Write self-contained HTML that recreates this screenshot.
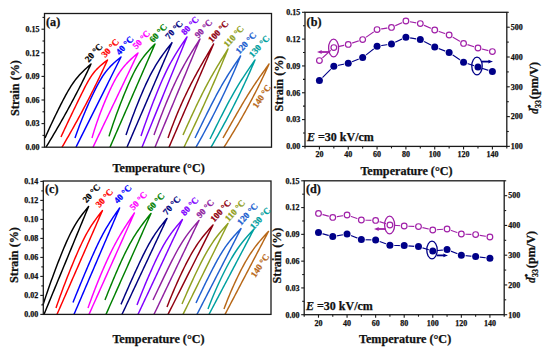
<!DOCTYPE html><html><head><meta charset="utf-8"><style>html,body{margin:0;padding:0;background:#fff;}svg{display:block;}text{font-family:"Liberation Serif", serif;font-weight:bold;stroke-width:0.25px;}</style></head><body>
<svg width="550" height="350" viewBox="0 0 550 350">
<rect width="550" height="350" fill="#fff"/>
<path d="M46.00,147.20 L47.27,145.12 L48.53,143.04 L49.79,140.96 L51.04,138.88 L52.28,136.80 L53.52,134.72 L54.74,132.64 L55.96,130.56 L57.17,128.48 L58.38,126.40 L59.57,124.32 L60.76,122.24 L61.94,120.16 L63.12,118.08 L64.28,116.00 L65.44,113.92 L66.59,111.84 L67.73,109.76 L68.87,107.68 L70.00,105.60 L71.12,103.52 L72.23,101.44 L73.34,99.36 L74.44,97.28 L75.53,95.20 L76.61,93.12 L77.69,91.04 L78.76,88.96 L79.82,86.88 L80.88,84.80 L81.92,82.72 L82.96,80.64 L83.99,78.56 L85.02,76.48 L86.03,74.40 L87.04,72.32 L88.04,70.24 L89.03,68.16 L90.02,66.08 L91.00,64.00 L88.92,65.85 L86.87,67.70 L84.87,69.55 L82.94,71.40 L81.11,73.25 L79.39,75.10 L77.76,76.95 L76.23,78.80 L74.80,80.65 L73.46,82.50 L72.18,84.35 L70.97,86.20 L69.82,88.05 L68.71,89.90 L67.63,91.75 L66.59,93.60 L65.58,95.45 L64.58,97.30 L63.60,99.15 L62.64,101.00 L61.69,102.85 L60.75,104.70 L59.82,106.55 L58.89,108.40 L57.98,110.25 L57.07,112.10 L56.16,113.95 L55.26,115.80 L54.37,117.65 L53.49,119.50 L52.61,121.35 L51.73,123.20 L50.87,125.05 L50.01,126.90 L49.15,128.75 L48.31,130.60 L47.47,132.45 L46.64,134.30 L45.81,136.15 L45.00,138.00" fill="none" stroke="#000000" stroke-width="1.45" stroke-linejoin="round"/>
<path d="M62.00,147.20 L63.28,145.02 L64.56,142.84 L65.83,140.66 L67.09,138.48 L68.34,136.30 L69.59,134.12 L70.83,131.94 L72.06,129.76 L73.28,127.58 L74.50,125.40 L75.71,123.22 L76.91,121.04 L78.10,118.86 L79.29,116.68 L80.47,114.50 L81.64,112.32 L82.80,110.14 L83.96,107.96 L85.11,105.78 L86.25,103.60 L87.38,101.42 L88.51,99.24 L89.63,97.06 L90.74,94.88 L91.84,92.70 L92.94,90.52 L94.03,88.34 L95.11,86.16 L96.18,83.98 L97.25,81.80 L98.31,79.62 L99.36,77.44 L100.40,75.26 L101.44,73.08 L102.47,70.90 L103.49,68.72 L104.50,66.54 L105.51,64.36 L106.51,62.18 L107.50,60.00 L105.03,61.92 L102.64,63.85 L100.38,65.78 L98.30,67.70 L96.41,69.62 L94.71,71.55 L93.17,73.47 L91.78,75.40 L90.49,77.33 L89.30,79.25 L88.18,81.17 L87.10,83.10 L86.07,85.03 L85.06,86.95 L84.08,88.88 L83.11,90.80 L82.14,92.72 L81.19,94.65 L80.24,96.57 L79.30,98.50 L78.36,100.43 L77.42,102.35 L76.49,104.28 L75.56,106.20 L74.62,108.12 L73.69,110.05 L72.77,111.97 L71.84,113.90 L70.92,115.82 L70.00,117.75 L69.08,119.68 L68.17,121.60 L67.26,123.53 L66.35,125.45 L65.45,127.38 L64.55,129.30 L63.65,131.23 L62.76,133.15 L61.88,135.07 L61.00,137.00" fill="none" stroke="#ff0000" stroke-width="1.45" stroke-linejoin="round"/>
<path d="M76.00,147.20 L77.12,144.94 L78.25,142.69 L79.38,140.44 L80.50,138.18 L81.62,135.92 L82.75,133.67 L83.88,131.41 L85.00,129.16 L86.12,126.90 L87.25,124.65 L88.38,122.39 L89.50,120.14 L90.62,117.88 L91.75,115.63 L92.88,113.38 L94.00,111.12 L95.12,108.86 L96.25,106.61 L97.38,104.35 L98.50,102.10 L99.62,99.84 L100.75,97.59 L101.88,95.33 L103.00,93.08 L104.12,90.83 L105.25,88.57 L106.38,86.31 L107.50,84.06 L108.62,81.80 L109.75,79.55 L110.88,77.29 L112.00,75.04 L113.12,72.78 L114.25,70.53 L115.38,68.28 L116.50,66.02 L117.62,63.77 L118.75,61.51 L119.88,59.25 L121.00,57.00 L118.55,59.02 L116.16,61.05 L113.88,63.08 L111.74,65.10 L109.76,67.12 L107.94,69.15 L106.27,71.17 L104.74,73.20 L103.32,75.22 L102.00,77.25 L100.76,79.28 L99.58,81.30 L98.46,83.33 L97.37,85.35 L96.32,87.38 L95.30,89.40 L94.30,91.42 L93.32,93.45 L92.35,95.47 L91.40,97.50 L90.46,99.53 L89.54,101.55 L88.62,103.57 L87.72,105.60 L86.83,107.62 L85.95,109.65 L85.09,111.68 L84.23,113.70 L83.39,115.72 L82.55,117.75 L81.74,119.78 L80.93,121.80 L80.14,123.83 L79.36,125.85 L78.60,127.88 L77.85,129.90 L77.11,131.93 L76.39,133.95 L75.69,135.97 L75.00,138.00" fill="none" stroke="#0000ff" stroke-width="1.45" stroke-linejoin="round"/>
<path d="M93.00,147.20 L94.12,144.84 L95.25,142.49 L96.38,140.13 L97.50,137.78 L98.62,135.42 L99.75,133.07 L100.88,130.72 L102.00,128.36 L103.12,126.00 L104.25,123.65 L105.38,121.29 L106.50,118.94 L107.62,116.58 L108.75,114.23 L109.88,111.88 L111.00,109.52 L112.12,107.16 L113.25,104.81 L114.38,102.45 L115.50,100.10 L116.62,97.74 L117.75,95.39 L118.88,93.03 L120.00,90.68 L121.12,88.33 L122.25,85.97 L123.38,83.61 L124.50,81.26 L125.62,78.91 L126.75,76.55 L127.88,74.19 L129.00,71.84 L130.12,69.48 L131.25,67.13 L132.38,64.78 L133.50,62.42 L134.62,60.06 L135.75,57.71 L136.88,55.35 L138.00,53.00 L135.53,55.12 L133.11,57.25 L130.79,59.38 L128.59,61.50 L126.53,63.62 L124.63,65.75 L122.87,67.88 L121.25,70.00 L119.75,72.12 L118.36,74.25 L117.05,76.38 L115.82,78.50 L114.65,80.62 L113.53,82.75 L112.45,84.88 L111.41,87.00 L110.39,89.12 L109.40,91.25 L108.44,93.38 L107.49,95.50 L106.56,97.62 L105.65,99.75 L104.76,101.88 L103.88,104.00 L103.01,106.12 L102.16,108.25 L101.33,110.38 L100.51,112.50 L99.70,114.62 L98.92,116.75 L98.14,118.88 L97.39,121.00 L96.65,123.12 L95.93,125.25 L95.23,127.38 L94.54,129.50 L93.88,131.62 L93.23,133.75 L92.61,135.88 L92.00,138.00" fill="none" stroke="#ff00ff" stroke-width="1.45" stroke-linejoin="round"/>
<path d="M110.00,147.20 L111.12,144.62 L112.25,142.04 L113.38,139.46 L114.50,136.88 L115.62,134.30 L116.75,131.72 L117.88,129.14 L119.00,126.56 L120.12,123.98 L121.25,121.40 L122.38,118.82 L123.50,116.24 L124.62,113.66 L125.75,111.08 L126.88,108.50 L128.00,105.92 L129.12,103.34 L130.25,100.76 L131.38,98.18 L132.50,95.60 L133.62,93.02 L134.75,90.44 L135.88,87.86 L137.00,85.28 L138.12,82.70 L139.25,80.12 L140.38,77.54 L141.50,74.96 L142.62,72.38 L143.75,69.80 L144.88,67.22 L146.00,64.64 L147.12,62.06 L148.25,59.48 L149.38,56.90 L150.50,54.32 L151.62,51.74 L152.75,49.16 L153.88,46.58 L155.00,44.00 L152.78,46.31 L150.60,48.62 L148.49,50.93 L146.48,53.24 L144.59,55.55 L142.81,57.86 L141.16,60.17 L139.62,62.48 L138.17,64.79 L136.82,67.10 L135.54,69.41 L134.33,71.72 L133.17,74.03 L132.05,76.34 L130.97,78.65 L129.91,80.96 L128.89,83.27 L127.88,85.58 L126.90,87.89 L125.93,90.20 L124.97,92.51 L124.03,94.82 L123.10,97.13 L122.18,99.44 L121.27,101.75 L120.37,104.06 L119.48,106.37 L118.61,108.68 L117.74,110.99 L116.89,113.30 L116.04,115.61 L115.21,117.92 L114.39,120.23 L113.58,122.54 L112.79,124.85 L112.00,127.16 L111.23,129.47 L110.47,131.78 L109.73,134.09 L109.00,136.40" fill="none" stroke="#008000" stroke-width="1.45" stroke-linejoin="round"/>
<path d="M127.00,147.20 L128.12,144.58 L129.25,141.97 L130.38,139.35 L131.50,136.74 L132.62,134.12 L133.75,131.51 L134.88,128.89 L136.00,126.28 L137.12,123.66 L138.25,121.05 L139.38,118.43 L140.50,115.82 L141.62,113.20 L142.75,110.59 L143.88,107.97 L145.00,105.36 L146.12,102.74 L147.25,100.13 L148.38,97.51 L149.50,94.90 L150.62,92.28 L151.75,89.67 L152.88,87.05 L154.00,84.44 L155.12,81.82 L156.25,79.21 L157.38,76.59 L158.50,73.98 L159.62,71.36 L160.75,68.75 L161.88,66.13 L163.00,63.52 L164.12,60.91 L165.25,58.29 L166.38,55.67 L167.50,53.06 L168.62,50.44 L169.75,47.83 L170.88,45.22 L172.00,42.60 L170.18,44.91 L168.37,47.22 L166.58,49.53 L164.84,51.84 L163.14,54.15 L161.50,56.46 L159.91,58.77 L158.39,61.08 L156.92,63.39 L155.52,65.70 L154.17,68.01 L152.87,70.32 L151.62,72.63 L150.41,74.94 L149.24,77.25 L148.11,79.56 L147.01,81.87 L145.93,84.18 L144.88,86.49 L143.85,88.80 L142.84,91.11 L141.85,93.42 L140.87,95.73 L139.91,98.04 L138.96,100.35 L138.02,102.66 L137.10,104.97 L136.18,107.28 L135.28,109.59 L134.39,111.90 L133.50,114.21 L132.63,116.52 L131.77,118.83 L130.91,121.14 L130.07,123.45 L129.24,125.76 L128.41,128.07 L127.60,130.38 L126.79,132.69 L126.00,135.00" fill="none" stroke="#000080" stroke-width="1.45" stroke-linejoin="round"/>
<path d="M142.00,147.20 L143.12,144.44 L144.25,141.69 L145.38,138.94 L146.50,136.18 L147.62,133.42 L148.75,130.67 L149.88,127.91 L151.00,125.16 L152.12,122.40 L153.25,119.65 L154.38,116.89 L155.50,114.14 L156.62,111.38 L157.75,108.63 L158.88,105.88 L160.00,103.12 L161.12,100.36 L162.25,97.61 L163.38,94.85 L164.50,92.10 L165.62,89.34 L166.75,86.59 L167.88,83.83 L169.00,81.08 L170.12,78.33 L171.25,75.57 L172.38,72.81 L173.50,70.06 L174.62,67.30 L175.75,64.55 L176.88,61.79 L178.00,59.04 L179.12,56.28 L180.25,53.53 L181.38,50.78 L182.50,48.02 L183.62,45.27 L184.75,42.51 L185.88,39.76 L187.00,37.00 L185.28,39.48 L183.58,41.95 L181.89,44.42 L180.24,46.90 L178.62,49.38 L177.05,51.85 L175.52,54.33 L174.04,56.80 L172.61,59.28 L171.23,61.75 L169.89,64.22 L168.60,66.70 L167.35,69.18 L166.14,71.65 L164.97,74.12 L163.82,76.60 L162.70,79.07 L161.61,81.55 L160.54,84.03 L159.49,86.50 L158.45,88.97 L157.44,91.45 L156.43,93.92 L155.45,96.40 L154.47,98.88 L153.51,101.35 L152.55,103.83 L151.61,106.30 L150.67,108.77 L149.75,111.25 L148.83,113.73 L147.93,116.20 L147.03,118.67 L146.14,121.15 L145.26,123.62 L144.39,126.10 L143.53,128.57 L142.68,131.05 L141.83,133.52 L141.00,136.00" fill="none" stroke="#8000ff" stroke-width="1.45" stroke-linejoin="round"/>
<path d="M155.00,147.20 L156.12,144.49 L157.25,141.79 L158.38,139.08 L159.50,136.38 L160.62,133.67 L161.75,130.97 L162.88,128.26 L164.00,125.56 L165.12,122.85 L166.25,120.15 L167.38,117.44 L168.50,114.74 L169.62,112.03 L170.75,109.33 L171.88,106.62 L173.00,103.92 L174.12,101.21 L175.25,98.51 L176.38,95.80 L177.50,93.10 L178.62,90.39 L179.75,87.69 L180.88,84.98 L182.00,82.28 L183.12,79.58 L184.25,76.87 L185.38,74.16 L186.50,71.46 L187.62,68.75 L188.75,66.05 L189.88,63.34 L191.00,60.64 L192.12,57.94 L193.25,55.23 L194.38,52.53 L195.50,49.82 L196.62,47.11 L197.75,44.41 L198.88,41.71 L200.00,39.00 L198.45,41.40 L196.91,43.80 L195.38,46.20 L193.86,48.60 L192.36,51.00 L190.88,53.40 L189.43,55.80 L188.00,58.20 L186.60,60.60 L185.24,63.00 L183.90,65.40 L182.59,67.80 L181.31,70.20 L180.07,72.60 L178.85,75.00 L177.65,77.40 L176.49,79.80 L175.34,82.20 L174.22,84.60 L173.12,87.00 L172.04,89.40 L170.98,91.80 L169.94,94.20 L168.91,96.60 L167.90,99.00 L166.90,101.40 L165.91,103.80 L164.93,106.20 L163.97,108.60 L163.02,111.00 L162.07,113.40 L161.14,115.80 L160.22,118.20 L159.30,120.60 L158.40,123.00 L157.50,125.40 L156.61,127.80 L155.73,130.20 L154.86,132.60 L154.00,135.00" fill="none" stroke="#9020a0" stroke-width="1.45" stroke-linejoin="round"/>
<path d="M169.00,147.20 L170.12,144.62 L171.23,142.04 L172.34,139.46 L173.46,136.88 L174.57,134.30 L175.69,131.72 L176.81,129.14 L177.92,126.56 L179.03,123.98 L180.15,121.40 L181.26,118.82 L182.38,116.24 L183.50,113.66 L184.61,111.08 L185.72,108.50 L186.84,105.92 L187.95,103.34 L189.07,100.76 L190.19,98.18 L191.30,95.60 L192.41,93.02 L193.53,90.44 L194.65,87.86 L195.76,85.28 L196.88,82.70 L197.99,80.12 L199.10,77.54 L200.22,74.96 L201.33,72.38 L202.45,69.80 L203.56,67.22 L204.68,64.64 L205.79,62.06 L206.91,59.48 L208.02,56.90 L209.14,54.32 L210.25,51.74 L211.37,49.16 L212.48,46.58 L213.60,44.00 L212.21,46.35 L210.82,48.70 L209.43,51.05 L208.05,53.40 L206.67,55.75 L205.30,58.10 L203.94,60.45 L202.58,62.80 L201.24,65.15 L199.92,67.50 L198.60,69.85 L197.30,72.20 L196.02,74.55 L194.75,76.90 L193.50,79.25 L192.27,81.60 L191.05,83.95 L189.86,86.30 L188.68,88.65 L187.52,91.00 L186.38,93.35 L185.26,95.70 L184.15,98.05 L183.07,100.40 L182.00,102.75 L180.95,105.10 L179.92,107.45 L178.91,109.80 L177.91,112.15 L176.93,114.50 L175.96,116.85 L175.02,119.20 L174.09,121.55 L173.17,123.90 L172.27,126.25 L171.39,128.60 L170.52,130.95 L169.66,133.30 L168.82,135.65 L168.00,138.00" fill="none" stroke="#900010" stroke-width="1.45" stroke-linejoin="round"/>
<path d="M184.00,147.20 L185.20,144.74 L186.39,142.29 L187.58,139.83 L188.76,137.38 L189.94,134.92 L191.11,132.47 L192.28,130.01 L193.44,127.56 L194.60,125.10 L195.75,122.65 L196.90,120.19 L198.04,117.74 L199.18,115.28 L200.31,112.83 L201.44,110.38 L202.56,107.92 L203.68,105.46 L204.79,103.01 L205.90,100.55 L207.00,98.10 L208.10,95.64 L209.19,93.19 L210.28,90.73 L211.36,88.28 L212.44,85.83 L213.51,83.37 L214.58,80.91 L215.64,78.46 L216.70,76.00 L217.75,73.55 L218.80,71.09 L219.84,68.64 L220.88,66.19 L221.91,63.73 L222.94,61.28 L223.96,58.82 L224.98,56.36 L225.99,53.91 L227.00,51.45 L228.00,49.00 L226.67,51.15 L225.34,53.30 L224.01,55.45 L222.68,57.60 L221.36,59.75 L220.05,61.90 L218.74,64.05 L217.45,66.20 L216.17,68.35 L214.91,70.50 L213.66,72.65 L212.43,74.80 L211.21,76.95 L210.02,79.10 L208.84,81.25 L207.67,83.40 L206.52,85.55 L205.39,87.70 L204.28,89.85 L203.17,92.00 L202.09,94.15 L201.01,96.30 L199.95,98.45 L198.89,100.60 L197.85,102.75 L196.82,104.90 L195.79,107.05 L194.78,109.20 L193.77,111.35 L192.77,113.50 L191.77,115.65 L190.78,117.80 L189.79,119.95 L188.81,122.10 L187.83,124.25 L186.86,126.40 L185.89,128.55 L184.92,130.70 L183.96,132.85 L183.00,135.00" fill="none" stroke="#90a020" stroke-width="1.45" stroke-linejoin="round"/>
<path d="M196.00,147.20 L197.29,144.92 L198.57,142.64 L199.84,140.36 L201.11,138.08 L202.36,135.80 L203.61,133.52 L204.84,131.24 L206.07,128.96 L207.29,126.68 L208.50,124.40 L209.70,122.12 L210.89,119.84 L212.07,117.56 L213.25,115.28 L214.41,113.00 L215.57,110.72 L216.71,108.44 L217.85,106.16 L218.98,103.88 L220.10,101.60 L221.21,99.32 L222.31,97.04 L223.40,94.76 L224.49,92.48 L225.56,90.20 L226.63,87.92 L227.68,85.64 L228.73,83.36 L229.77,81.08 L230.80,78.80 L231.82,76.52 L232.83,74.24 L233.83,71.96 L234.83,69.68 L235.81,67.40 L236.79,65.12 L237.75,62.84 L238.71,60.56 L239.66,58.28 L240.60,56.00 L239.21,58.05 L237.82,60.10 L236.43,62.15 L235.04,64.20 L233.67,66.25 L232.31,68.30 L230.96,70.35 L229.64,72.40 L228.34,74.45 L227.06,76.50 L225.80,78.55 L224.57,80.60 L223.36,82.65 L222.17,84.70 L221.00,86.75 L219.85,88.80 L218.72,90.85 L217.60,92.90 L216.50,94.95 L215.42,97.00 L214.34,99.05 L213.28,101.10 L212.23,103.15 L211.18,105.20 L210.14,107.25 L209.11,109.30 L208.09,111.35 L207.07,113.40 L206.05,115.45 L205.04,117.50 L204.02,119.55 L203.02,121.60 L202.01,123.65 L201.00,125.70 L200.00,127.75 L199.00,129.80 L198.00,131.85 L197.00,133.90 L196.00,135.95 L195.00,138.00" fill="none" stroke="#2060d0" stroke-width="1.45" stroke-linejoin="round"/>
<path d="M211.00,147.20 L212.28,145.02 L213.54,142.84 L214.80,140.66 L216.05,138.48 L217.29,136.30 L218.52,134.12 L219.74,131.94 L220.95,129.76 L222.16,127.58 L223.35,125.40 L224.54,123.22 L225.71,121.04 L226.88,118.86 L228.04,116.68 L229.19,114.50 L230.33,112.32 L231.46,110.14 L232.58,107.96 L233.70,105.78 L234.80,103.60 L235.90,101.42 L236.98,99.24 L238.06,97.06 L239.13,94.88 L240.19,92.70 L241.24,90.52 L242.28,88.34 L243.31,86.16 L244.34,83.98 L245.35,81.80 L246.36,79.62 L247.35,77.44 L248.34,75.26 L249.32,73.08 L250.29,70.90 L251.25,68.72 L252.20,66.54 L253.14,64.36 L254.08,62.18 L255.00,60.00 L253.64,61.98 L252.27,63.95 L250.90,65.92 L249.54,67.90 L248.19,69.88 L246.85,71.85 L245.53,73.83 L244.22,75.80 L242.93,77.78 L241.66,79.75 L240.41,81.72 L239.19,83.70 L237.98,85.67 L236.80,87.65 L235.63,89.62 L234.49,91.60 L233.36,93.57 L232.25,95.55 L231.15,97.53 L230.07,99.50 L229.00,101.47 L227.95,103.45 L226.90,105.42 L225.87,107.40 L224.84,109.38 L223.82,111.35 L222.80,113.33 L221.80,115.30 L220.79,117.28 L219.79,119.25 L218.80,121.22 L217.81,123.20 L216.83,125.17 L215.84,127.15 L214.86,129.12 L213.88,131.10 L212.91,133.07 L211.94,135.05 L210.97,137.02 L210.00,139.00" fill="none" stroke="#00a0a0" stroke-width="1.45" stroke-linejoin="round"/>
<path d="M224.00,147.20 L225.32,145.12 L226.63,143.04 L227.93,140.96 L229.22,138.88 L230.50,136.80 L231.77,134.72 L233.03,132.64 L234.28,130.56 L235.52,128.48 L236.75,126.40 L237.97,124.32 L239.18,122.24 L240.38,120.16 L241.57,118.08 L242.75,116.00 L243.92,113.92 L245.08,111.84 L246.23,109.76 L247.37,107.68 L248.50,105.60 L249.62,103.52 L250.73,101.44 L251.83,99.36 L252.92,97.28 L254.00,95.20 L255.07,93.12 L256.13,91.04 L257.18,88.96 L258.22,86.88 L259.25,84.80 L260.27,82.72 L261.28,80.64 L262.28,78.56 L263.27,76.48 L264.25,74.40 L265.22,72.32 L266.18,70.24 L267.13,68.16 L268.07,66.08 L269.00,64.00 L267.68,65.85 L266.36,67.70 L265.03,69.55 L263.71,71.40 L262.39,73.25 L261.08,75.10 L259.77,76.95 L258.49,78.80 L257.21,80.65 L255.95,82.50 L254.71,84.35 L253.48,86.20 L252.27,88.05 L251.07,89.90 L249.89,91.75 L248.73,93.60 L247.58,95.45 L246.45,97.30 L245.32,99.15 L244.21,101.00 L243.11,102.85 L242.02,104.70 L240.94,106.55 L239.86,108.40 L238.79,110.25 L237.73,112.10 L236.67,113.95 L235.61,115.80 L234.56,117.65 L233.50,119.50 L232.45,121.35 L231.40,123.20 L230.36,125.05 L229.31,126.90 L228.26,128.75 L227.21,130.60 L226.16,132.45 L225.11,134.30 L224.05,136.15 L223.00,138.00" fill="none" stroke="#b86818" stroke-width="1.45" stroke-linejoin="round"/>
<rect x="44.5" y="13.5" width="227.0" height="133.7" fill="none" stroke="#1a1a1a" stroke-width="1.3"/>
<line x1="41.5" y1="147.20" x2="44.5" y2="147.20" stroke="#1a1a1a" stroke-width="1.1"/>
<text x="39.5" y="150.00" font-size="8" text-anchor="end" fill="#111" stroke="#111">0.00</text>
<line x1="42.5" y1="135.40" x2="44.5" y2="135.40" stroke="#1a1a1a" stroke-width="1.1"/>
<line x1="41.5" y1="123.60" x2="44.5" y2="123.60" stroke="#1a1a1a" stroke-width="1.1"/>
<text x="39.5" y="126.40" font-size="8" text-anchor="end" fill="#111" stroke="#111">0.03</text>
<line x1="42.5" y1="111.80" x2="44.5" y2="111.80" stroke="#1a1a1a" stroke-width="1.1"/>
<line x1="41.5" y1="100.00" x2="44.5" y2="100.00" stroke="#1a1a1a" stroke-width="1.1"/>
<text x="39.5" y="102.80" font-size="8" text-anchor="end" fill="#111" stroke="#111">0.06</text>
<line x1="42.5" y1="88.20" x2="44.5" y2="88.20" stroke="#1a1a1a" stroke-width="1.1"/>
<line x1="41.5" y1="76.40" x2="44.5" y2="76.40" stroke="#1a1a1a" stroke-width="1.1"/>
<text x="39.5" y="79.20" font-size="8" text-anchor="end" fill="#111" stroke="#111">0.09</text>
<line x1="42.5" y1="64.60" x2="44.5" y2="64.60" stroke="#1a1a1a" stroke-width="1.1"/>
<line x1="41.5" y1="52.80" x2="44.5" y2="52.80" stroke="#1a1a1a" stroke-width="1.1"/>
<text x="39.5" y="55.60" font-size="8" text-anchor="end" fill="#111" stroke="#111">0.12</text>
<line x1="42.5" y1="41.00" x2="44.5" y2="41.00" stroke="#1a1a1a" stroke-width="1.1"/>
<line x1="41.5" y1="29.20" x2="44.5" y2="29.20" stroke="#1a1a1a" stroke-width="1.1"/>
<text x="39.5" y="32.00" font-size="8" text-anchor="end" fill="#111" stroke="#111">0.15</text>
<line x1="42.5" y1="17.40" x2="44.5" y2="17.40" stroke="#1a1a1a" stroke-width="1.1"/>
<text x="46" y="26" font-size="12.2" fill="#111" stroke="#111">(a)</text>
<text x="112.6" y="172" font-size="12.15" fill="#111" stroke="#111">Temperature (°C)</text>
<text transform="translate(19,88) rotate(-90)" font-size="12.2" text-anchor="middle" fill="#111" stroke="#111">Strain (%)</text>
<path d="M44.00,314.40 L45.11,311.70 L46.23,309.00 L47.35,306.30 L48.46,303.60 L49.58,300.90 L50.69,298.20 L51.80,295.50 L52.92,292.80 L54.04,290.10 L55.15,287.40 L56.27,284.70 L57.38,282.00 L58.49,279.30 L59.61,276.60 L60.73,273.90 L61.84,271.20 L62.95,268.50 L64.07,265.80 L65.19,263.10 L66.30,260.40 L67.41,257.70 L68.53,255.00 L69.64,252.30 L70.76,249.60 L71.88,246.90 L72.99,244.20 L74.10,241.50 L75.22,238.80 L76.33,236.10 L77.45,233.40 L78.56,230.70 L79.68,228.00 L80.79,225.30 L81.91,222.60 L83.02,219.90 L84.14,217.20 L85.25,214.50 L86.37,211.80 L87.48,209.10 L88.60,206.40 L86.60,208.87 L84.63,211.33 L82.72,213.80 L80.87,216.26 L79.12,218.72 L77.46,221.19 L75.90,223.66 L74.42,226.12 L73.03,228.59 L71.70,231.05 L70.44,233.52 L69.24,235.98 L68.08,238.44 L66.95,240.91 L65.86,243.38 L64.80,245.84 L63.75,248.31 L62.73,250.77 L61.72,253.24 L60.73,255.70 L59.75,258.17 L58.78,260.63 L57.82,263.10 L56.88,265.56 L55.94,268.02 L55.01,270.49 L54.09,272.96 L53.18,275.42 L52.28,277.88 L51.38,280.35 L50.50,282.81 L49.62,285.28 L48.76,287.75 L47.91,290.21 L47.06,292.68 L46.23,295.14 L45.40,297.61 L44.59,300.07 L43.79,302.53 L43.00,305.00" fill="none" stroke="#000000" stroke-width="1.45" stroke-linejoin="round"/>
<path d="M57.00,314.40 L58.14,311.80 L59.27,309.21 L60.41,306.61 L61.54,304.02 L62.68,301.42 L63.81,298.83 L64.95,296.23 L66.08,293.64 L67.22,291.04 L68.35,288.45 L69.49,285.85 L70.62,283.26 L71.76,280.66 L72.89,278.07 L74.03,275.47 L75.16,272.88 L76.30,270.28 L77.43,267.69 L78.57,265.09 L79.70,262.50 L80.84,259.90 L81.97,257.31 L83.11,254.71 L84.24,252.12 L85.38,249.52 L86.51,246.93 L87.65,244.33 L88.78,241.74 L89.92,239.14 L91.05,236.55 L92.19,233.95 L93.32,231.36 L94.46,228.76 L95.59,226.17 L96.73,223.57 L97.86,220.98 L99.00,218.38 L100.13,215.79 L101.27,213.19 L102.40,210.60 L100.49,213.03 L98.60,215.47 L96.76,217.91 L94.98,220.34 L93.27,222.78 L91.65,225.21 L90.10,227.64 L88.64,230.08 L87.24,232.51 L85.91,234.95 L84.63,237.38 L83.40,239.82 L82.21,242.25 L81.06,244.69 L79.93,247.12 L78.83,249.56 L77.74,252.00 L76.68,254.43 L75.63,256.87 L74.59,259.30 L73.57,261.74 L72.56,264.17 L71.55,266.61 L70.56,269.04 L69.58,271.48 L68.61,273.91 L67.64,276.35 L66.69,278.78 L65.74,281.21 L64.81,283.65 L63.88,286.09 L62.96,288.52 L62.05,290.95 L61.16,293.39 L60.27,295.82 L59.39,298.26 L58.53,300.69 L57.67,303.13 L56.83,305.56 L56.00,308.00" fill="none" stroke="#ff0000" stroke-width="1.45" stroke-linejoin="round"/>
<path d="M74.00,314.40 L75.14,311.74 L76.28,309.08 L77.42,306.42 L78.56,303.76 L79.70,301.10 L80.84,298.44 L81.98,295.78 L83.12,293.12 L84.26,290.46 L85.40,287.80 L86.54,285.14 L87.68,282.48 L88.82,279.82 L89.96,277.16 L91.10,274.50 L92.24,271.84 L93.38,269.18 L94.52,266.52 L95.66,263.86 L96.80,261.20 L97.94,258.54 L99.08,255.88 L100.22,253.22 L101.36,250.56 L102.50,247.90 L103.64,245.24 L104.78,242.58 L105.92,239.92 L107.06,237.26 L108.20,234.60 L109.34,231.94 L110.48,229.28 L111.62,226.62 L112.76,223.96 L113.90,221.30 L115.04,218.64 L116.18,215.98 L117.32,213.32 L118.46,210.66 L119.60,208.00 L117.93,210.36 L116.27,212.72 L114.63,215.08 L113.03,217.44 L111.46,219.80 L109.93,222.16 L108.46,224.52 L107.03,226.88 L105.65,229.24 L104.31,231.60 L103.02,233.96 L101.77,236.32 L100.55,238.68 L99.37,241.04 L98.21,243.40 L97.08,245.76 L95.97,248.12 L94.88,250.48 L93.81,252.84 L92.75,255.20 L91.71,257.56 L90.67,259.92 L89.65,262.28 L88.63,264.64 L87.62,267.00 L86.61,269.36 L85.61,271.72 L84.62,274.08 L83.63,276.44 L82.65,278.80 L81.67,281.16 L80.69,283.52 L79.72,285.88 L78.75,288.24 L77.78,290.60 L76.82,292.96 L75.86,295.32 L74.90,297.68 L73.95,300.04 L73.00,302.40" fill="none" stroke="#0000ff" stroke-width="1.45" stroke-linejoin="round"/>
<path d="M89.00,314.40 L90.14,311.86 L91.27,309.33 L92.41,306.79 L93.54,304.26 L94.68,301.72 L95.81,299.19 L96.95,296.65 L98.08,294.12 L99.22,291.58 L100.35,289.05 L101.48,286.51 L102.62,283.98 L103.75,281.44 L104.89,278.91 L106.02,276.38 L107.16,273.84 L108.29,271.31 L109.43,268.77 L110.56,266.24 L111.70,263.70 L112.84,261.16 L113.97,258.63 L115.11,256.09 L116.24,253.56 L117.38,251.02 L118.51,248.49 L119.65,245.95 L120.78,243.42 L121.92,240.88 L123.05,238.35 L124.19,235.81 L125.32,233.28 L126.46,230.75 L127.59,228.21 L128.72,225.68 L129.86,223.14 L131.00,220.60 L132.13,218.07 L133.27,215.53 L134.40,213.00 L132.78,215.38 L131.17,217.75 L129.58,220.12 L128.00,222.50 L126.45,224.88 L124.92,227.25 L123.43,229.62 L121.97,232.00 L120.55,234.38 L119.16,236.75 L117.81,239.12 L116.50,241.50 L115.21,243.88 L113.96,246.25 L112.74,248.62 L111.55,251.00 L110.38,253.38 L109.24,255.75 L108.12,258.12 L107.02,260.50 L105.94,262.88 L104.88,265.25 L103.83,267.62 L102.80,270.00 L101.78,272.38 L100.78,274.75 L99.79,277.12 L98.81,279.50 L97.84,281.88 L96.89,284.25 L95.95,286.62 L95.02,289.00 L94.10,291.38 L93.20,293.75 L92.30,296.12 L91.42,298.50 L90.54,300.88 L89.68,303.25 L88.84,305.62 L88.00,308.00" fill="none" stroke="#ff00ff" stroke-width="1.45" stroke-linejoin="round"/>
<path d="M106.00,314.40 L107.12,311.88 L108.25,309.35 L109.38,306.82 L110.50,304.30 L111.62,301.77 L112.75,299.25 L113.88,296.72 L115.00,294.20 L116.13,291.67 L117.25,289.15 L118.38,286.62 L119.50,284.10 L120.62,281.57 L121.75,279.05 L122.88,276.52 L124.00,274.00 L125.13,271.47 L126.25,268.95 L127.38,266.43 L128.50,263.90 L129.62,261.38 L130.75,258.85 L131.88,256.32 L133.00,253.80 L134.12,251.28 L135.25,248.75 L136.38,246.22 L137.50,243.70 L138.62,241.18 L139.75,238.65 L140.88,236.12 L142.00,233.60 L143.12,231.07 L144.25,228.55 L145.38,226.03 L146.50,223.50 L147.62,220.97 L148.75,218.45 L149.88,215.93 L151.00,213.40 L149.26,215.56 L147.53,217.73 L145.82,219.90 L144.14,222.06 L142.50,224.22 L140.91,226.39 L139.36,228.56 L137.87,230.72 L136.43,232.88 L135.04,235.05 L133.71,237.22 L132.42,239.38 L131.17,241.55 L129.96,243.71 L128.80,245.88 L127.66,248.04 L126.55,250.21 L125.47,252.37 L124.42,254.53 L123.38,256.70 L122.37,258.87 L121.37,261.03 L120.38,263.19 L119.41,265.36 L118.45,267.52 L117.50,269.69 L116.56,271.86 L115.63,274.02 L114.70,276.19 L113.79,278.35 L112.88,280.51 L111.98,282.68 L111.08,284.85 L110.20,287.01 L109.31,289.18 L108.44,291.34 L107.57,293.50 L106.71,295.67 L105.85,297.83 L105.00,300.00" fill="none" stroke="#008000" stroke-width="1.45" stroke-linejoin="round"/>
<path d="M122.00,314.40 L123.12,312.00 L124.25,309.60 L125.38,307.20 L126.50,304.80 L127.62,302.40 L128.75,300.00 L129.88,297.60 L131.00,295.20 L132.12,292.80 L133.25,290.40 L134.38,288.00 L135.50,285.60 L136.62,283.20 L137.75,280.80 L138.88,278.40 L140.00,276.00 L141.12,273.60 L142.25,271.20 L143.38,268.80 L144.50,266.40 L145.62,264.00 L146.75,261.60 L147.88,259.20 L149.00,256.80 L150.12,254.40 L151.25,252.00 L152.38,249.60 L153.50,247.20 L154.62,244.80 L155.75,242.40 L156.88,240.00 L158.00,237.60 L159.12,235.20 L160.25,232.80 L161.38,230.40 L162.50,228.00 L163.62,225.60 L164.75,223.20 L165.88,220.80 L167.00,218.40 L165.24,220.55 L163.50,222.70 L161.79,224.85 L160.13,227.00 L158.52,229.15 L156.97,231.30 L155.48,233.45 L154.06,235.60 L152.69,237.75 L151.38,239.90 L150.12,242.05 L148.90,244.20 L147.72,246.35 L146.58,248.50 L145.46,250.65 L144.37,252.80 L143.29,254.95 L142.24,257.10 L141.20,259.25 L140.17,261.40 L139.16,263.55 L138.15,265.70 L137.15,267.85 L136.16,270.00 L135.17,272.15 L134.20,274.30 L133.22,276.45 L132.25,278.60 L131.29,280.75 L130.33,282.90 L129.38,285.05 L128.43,287.20 L127.48,289.35 L126.54,291.50 L125.61,293.65 L124.68,295.80 L123.75,297.95 L122.83,300.10 L121.91,302.25 L121.00,304.40" fill="none" stroke="#000080" stroke-width="1.45" stroke-linejoin="round"/>
<path d="M138.00,314.40 L139.11,312.03 L140.22,309.66 L141.33,307.29 L142.44,304.92 L143.55,302.55 L144.66,300.18 L145.77,297.81 L146.88,295.44 L147.99,293.07 L149.10,290.70 L150.21,288.33 L151.32,285.96 L152.43,283.59 L153.54,281.22 L154.65,278.85 L155.76,276.48 L156.87,274.11 L157.98,271.74 L159.09,269.37 L160.20,267.00 L161.31,264.63 L162.42,262.26 L163.53,259.89 L164.64,257.52 L165.75,255.15 L166.86,252.78 L167.97,250.41 L169.08,248.04 L170.19,245.67 L171.30,243.30 L172.41,240.93 L173.52,238.56 L174.63,236.19 L175.74,233.82 L176.85,231.45 L177.96,229.08 L179.07,226.71 L180.18,224.34 L181.29,221.97 L182.40,219.60 L180.55,221.73 L178.72,223.87 L176.92,226.00 L175.18,228.14 L173.49,230.28 L171.88,232.41 L170.33,234.54 L168.86,236.68 L167.45,238.81 L166.11,240.95 L164.82,243.09 L163.59,245.22 L162.40,247.35 L161.25,249.49 L160.13,251.62 L159.04,253.76 L157.98,255.89 L156.94,258.03 L155.92,260.16 L154.92,262.30 L153.93,264.44 L152.95,266.57 L151.99,268.70 L151.04,270.84 L150.09,272.98 L149.16,275.11 L148.24,277.25 L147.32,279.38 L146.41,281.51 L145.51,283.65 L144.62,285.78 L143.74,287.92 L142.87,290.06 L142.00,292.19 L141.15,294.32 L140.30,296.46 L139.46,298.60 L138.63,300.73 L137.81,302.87 L137.00,305.00" fill="none" stroke="#8000ff" stroke-width="1.45" stroke-linejoin="round"/>
<path d="M154.00,314.40 L155.12,312.05 L156.25,309.70 L157.38,307.35 L158.50,305.00 L159.62,302.65 L160.75,300.30 L161.88,297.95 L163.00,295.60 L164.12,293.25 L165.25,290.90 L166.38,288.55 L167.50,286.20 L168.62,283.85 L169.75,281.50 L170.88,279.15 L172.00,276.80 L173.12,274.45 L174.25,272.10 L175.38,269.75 L176.50,267.40 L177.62,265.05 L178.75,262.70 L179.88,260.35 L181.00,258.00 L182.12,255.65 L183.25,253.30 L184.38,250.95 L185.50,248.60 L186.62,246.25 L187.75,243.90 L188.88,241.55 L190.00,239.20 L191.12,236.85 L192.25,234.50 L193.38,232.15 L194.50,229.80 L195.62,227.45 L196.75,225.10 L197.88,222.75 L199.00,220.40 L197.25,222.39 L195.52,224.38 L193.82,226.37 L192.16,228.36 L190.55,230.35 L188.99,232.34 L187.50,234.33 L186.06,236.32 L184.69,238.31 L183.37,240.30 L182.10,242.29 L180.88,244.28 L179.70,246.27 L178.56,248.26 L177.44,250.25 L176.36,252.24 L175.30,254.23 L174.26,256.22 L173.23,258.21 L172.22,260.20 L171.22,262.19 L170.22,264.18 L169.24,266.17 L168.26,268.16 L167.29,270.15 L166.33,272.14 L165.36,274.13 L164.40,276.12 L163.44,278.11 L162.49,280.10 L161.53,282.09 L160.58,284.08 L159.63,286.07 L158.68,288.06 L157.73,290.05 L156.79,292.04 L155.84,294.03 L154.89,296.02 L153.95,298.01 L153.00,300.00" fill="none" stroke="#9020a0" stroke-width="1.45" stroke-linejoin="round"/>
<path d="M168.00,314.40 L169.12,312.16 L170.25,309.93 L171.38,307.69 L172.50,305.46 L173.62,303.22 L174.75,300.99 L175.88,298.75 L177.00,296.52 L178.12,294.28 L179.25,292.05 L180.38,289.81 L181.50,287.58 L182.62,285.34 L183.75,283.11 L184.88,280.88 L186.00,278.64 L187.12,276.40 L188.25,274.17 L189.38,271.94 L190.50,269.70 L191.62,267.46 L192.75,265.23 L193.88,263.00 L195.00,260.76 L196.12,258.52 L197.25,256.29 L198.38,254.06 L199.50,251.82 L200.62,249.58 L201.75,247.35 L202.88,245.12 L204.00,242.88 L205.12,240.64 L206.25,238.41 L207.38,236.18 L208.50,233.94 L209.62,231.70 L210.75,229.47 L211.88,227.24 L213.00,225.00 L211.15,227.05 L209.32,229.10 L207.52,231.15 L205.76,233.20 L204.06,235.25 L202.43,237.30 L200.86,239.35 L199.35,241.40 L197.91,243.45 L196.53,245.50 L195.20,247.55 L193.93,249.60 L192.70,251.65 L191.52,253.70 L190.36,255.75 L189.24,257.80 L188.15,259.85 L187.08,261.90 L186.03,263.95 L185.00,266.00 L183.99,268.05 L182.99,270.10 L182.00,272.15 L181.03,274.20 L180.07,276.25 L179.13,278.30 L178.19,280.35 L177.26,282.40 L176.35,284.45 L175.45,286.50 L174.55,288.55 L173.67,290.60 L172.80,292.65 L171.93,294.70 L171.08,296.75 L170.24,298.80 L169.41,300.85 L168.60,302.90 L167.79,304.95 L167.00,307.00" fill="none" stroke="#900010" stroke-width="1.45" stroke-linejoin="round"/>
<path d="M183.00,314.40 L184.12,312.12 L185.25,309.85 L186.38,307.57 L187.50,305.30 L188.62,303.02 L189.75,300.75 L190.88,298.47 L192.00,296.20 L193.12,293.92 L194.25,291.65 L195.38,289.38 L196.50,287.10 L197.62,284.82 L198.75,282.55 L199.88,280.27 L201.00,278.00 L202.12,275.72 L203.25,273.45 L204.38,271.18 L205.50,268.90 L206.62,266.62 L207.75,264.35 L208.88,262.07 L210.00,259.80 L211.12,257.52 L212.25,255.25 L213.38,252.97 L214.50,250.70 L215.62,248.43 L216.75,246.15 L217.88,243.88 L219.00,241.60 L220.12,239.32 L221.25,237.05 L222.38,234.78 L223.50,232.50 L224.62,230.22 L225.75,227.95 L226.88,225.68 L228.00,223.40 L226.20,225.41 L224.42,227.43 L222.66,229.44 L220.95,231.46 L219.29,233.47 L217.69,235.49 L216.16,237.50 L214.68,239.52 L213.27,241.53 L211.92,243.55 L210.62,245.56 L209.37,247.58 L208.16,249.59 L206.99,251.61 L205.86,253.62 L204.75,255.64 L203.67,257.65 L202.61,259.67 L201.57,261.69 L200.55,263.70 L199.54,265.72 L198.54,267.73 L197.56,269.75 L196.59,271.76 L195.62,273.77 L194.66,275.79 L193.72,277.81 L192.77,279.82 L191.84,281.83 L190.91,283.85 L189.99,285.87 L189.08,287.88 L188.17,289.89 L187.27,291.91 L186.37,293.93 L185.49,295.94 L184.60,297.95 L183.73,299.97 L182.86,301.99 L182.00,304.00" fill="none" stroke="#90a020" stroke-width="1.45" stroke-linejoin="round"/>
<path d="M197.00,314.40 L198.10,312.25 L199.20,310.11 L200.30,307.96 L201.40,305.82 L202.50,303.67 L203.60,301.53 L204.70,299.38 L205.80,297.24 L206.90,295.09 L208.00,292.95 L209.10,290.81 L210.20,288.66 L211.30,286.51 L212.40,284.37 L213.50,282.22 L214.60,280.08 L215.70,277.94 L216.80,275.79 L217.90,273.64 L219.00,271.50 L220.10,269.35 L221.20,267.21 L222.30,265.06 L223.40,262.92 L224.50,260.77 L225.60,258.63 L226.70,256.49 L227.80,254.34 L228.90,252.19 L230.00,250.05 L231.10,247.91 L232.20,245.76 L233.30,243.61 L234.40,241.47 L235.50,239.32 L236.60,237.18 L237.70,235.03 L238.80,232.89 L239.90,230.75 L241.00,228.60 L239.22,230.46 L237.46,232.32 L235.73,234.18 L234.05,236.04 L232.42,237.90 L230.86,239.76 L229.36,241.62 L227.93,243.48 L226.56,245.34 L225.25,247.20 L223.99,249.06 L222.79,250.92 L221.62,252.78 L220.50,254.64 L219.41,256.50 L218.34,258.36 L217.30,260.22 L216.28,262.08 L215.28,263.94 L214.29,265.80 L213.31,267.66 L212.35,269.52 L211.39,271.38 L210.44,273.24 L209.50,275.10 L208.57,276.96 L207.64,278.82 L206.72,280.68 L205.80,282.54 L204.89,284.40 L203.98,286.26 L203.08,288.12 L202.18,289.98 L201.28,291.84 L200.39,293.70 L199.51,295.56 L198.62,297.42 L197.74,299.28 L196.87,301.14 L196.00,303.00" fill="none" stroke="#2060d0" stroke-width="1.45" stroke-linejoin="round"/>
<path d="M209.00,314.40 L210.12,312.26 L211.25,310.13 L212.38,308.00 L213.50,305.86 L214.62,303.72 L215.75,301.59 L216.88,299.45 L218.00,297.32 L219.12,295.19 L220.25,293.05 L221.38,290.91 L222.50,288.78 L223.62,286.64 L224.75,284.51 L225.88,282.38 L227.00,280.24 L228.12,278.10 L229.25,275.97 L230.38,273.83 L231.50,271.70 L232.62,269.56 L233.75,267.43 L234.88,265.30 L236.00,263.16 L237.12,261.02 L238.25,258.89 L239.38,256.75 L240.50,254.62 L241.62,252.48 L242.75,250.35 L243.88,248.22 L245.00,246.08 L246.12,243.94 L247.25,241.81 L248.38,239.68 L249.50,237.54 L250.62,235.41 L251.75,233.27 L252.88,231.13 L254.00,229.00 L252.15,231.00 L250.31,233.00 L248.51,235.00 L246.74,237.00 L245.03,239.00 L243.38,241.00 L241.79,243.00 L240.27,245.00 L238.81,247.00 L237.40,249.00 L236.06,251.00 L234.76,253.00 L233.51,255.00 L232.30,257.00 L231.13,259.00 L229.99,261.00 L228.88,263.00 L227.80,265.00 L226.73,267.00 L225.69,269.00 L224.67,271.00 L223.67,273.00 L222.68,275.00 L221.71,277.00 L220.75,279.00 L219.80,281.00 L218.87,283.00 L217.96,285.00 L217.05,287.00 L216.16,289.00 L215.28,291.00 L214.42,293.00 L213.56,295.00 L212.73,297.00 L211.90,299.00 L211.09,301.00 L210.30,303.00 L209.52,305.00 L208.75,307.00 L208.00,309.00" fill="none" stroke="#00a0a0" stroke-width="1.45" stroke-linejoin="round"/>
<path d="M225.00,314.40 L226.09,312.32 L227.17,310.25 L228.26,308.17 L229.35,306.10 L230.44,304.02 L231.53,301.95 L232.61,299.88 L233.70,297.80 L234.79,295.72 L235.88,293.65 L236.96,291.57 L238.05,289.50 L239.14,287.43 L240.23,285.35 L241.31,283.27 L242.40,281.20 L243.49,279.12 L244.57,277.05 L245.66,274.97 L246.75,272.90 L247.84,270.82 L248.93,268.75 L250.01,266.68 L251.10,264.60 L252.19,262.52 L253.28,260.45 L254.36,258.38 L255.45,256.30 L256.54,254.22 L257.62,252.15 L258.71,250.07 L259.80,248.00 L260.89,245.93 L261.98,243.85 L263.06,241.78 L264.15,239.70 L265.24,237.62 L266.32,235.55 L267.41,233.47 L268.50,231.40 L266.71,233.34 L264.93,235.28 L263.18,237.22 L261.48,239.16 L259.81,241.10 L258.21,243.04 L256.66,244.98 L255.17,246.92 L253.75,248.86 L252.38,250.80 L251.06,252.74 L249.79,254.68 L248.57,256.62 L247.39,258.56 L246.25,260.50 L245.14,262.44 L244.06,264.38 L243.01,266.32 L241.98,268.26 L240.97,270.20 L239.98,272.14 L239.01,274.08 L238.06,276.02 L237.12,277.96 L236.19,279.90 L235.28,281.84 L234.39,283.78 L233.51,285.72 L232.64,287.66 L231.78,289.60 L230.94,291.54 L230.11,293.48 L229.30,295.42 L228.50,297.36 L227.71,299.30 L226.94,301.24 L226.18,303.18 L225.44,305.12 L224.71,307.06 L224.00,309.00" fill="none" stroke="#b86818" stroke-width="1.45" stroke-linejoin="round"/>
<rect x="43.3" y="181.0" width="227.7" height="133.4" fill="none" stroke="#1a1a1a" stroke-width="1.3"/>
<line x1="40.3" y1="314.40" x2="43.3" y2="314.40" stroke="#1a1a1a" stroke-width="1.1"/>
<text x="38.3" y="317.20" font-size="8" text-anchor="end" fill="#111" stroke="#111">0.00</text>
<line x1="41.3" y1="304.90" x2="43.3" y2="304.90" stroke="#1a1a1a" stroke-width="1.1"/>
<line x1="40.3" y1="295.40" x2="43.3" y2="295.40" stroke="#1a1a1a" stroke-width="1.1"/>
<text x="38.3" y="298.20" font-size="8" text-anchor="end" fill="#111" stroke="#111">0.02</text>
<line x1="41.3" y1="285.90" x2="43.3" y2="285.90" stroke="#1a1a1a" stroke-width="1.1"/>
<line x1="40.3" y1="276.40" x2="43.3" y2="276.40" stroke="#1a1a1a" stroke-width="1.1"/>
<text x="38.3" y="279.20" font-size="8" text-anchor="end" fill="#111" stroke="#111">0.04</text>
<line x1="41.3" y1="266.90" x2="43.3" y2="266.90" stroke="#1a1a1a" stroke-width="1.1"/>
<line x1="40.3" y1="257.40" x2="43.3" y2="257.40" stroke="#1a1a1a" stroke-width="1.1"/>
<text x="38.3" y="260.20" font-size="8" text-anchor="end" fill="#111" stroke="#111">0.06</text>
<line x1="41.3" y1="247.90" x2="43.3" y2="247.90" stroke="#1a1a1a" stroke-width="1.1"/>
<line x1="40.3" y1="238.40" x2="43.3" y2="238.40" stroke="#1a1a1a" stroke-width="1.1"/>
<text x="38.3" y="241.20" font-size="8" text-anchor="end" fill="#111" stroke="#111">0.08</text>
<line x1="41.3" y1="228.90" x2="43.3" y2="228.90" stroke="#1a1a1a" stroke-width="1.1"/>
<line x1="40.3" y1="219.40" x2="43.3" y2="219.40" stroke="#1a1a1a" stroke-width="1.1"/>
<text x="38.3" y="222.20" font-size="8" text-anchor="end" fill="#111" stroke="#111">0.10</text>
<line x1="41.3" y1="209.90" x2="43.3" y2="209.90" stroke="#1a1a1a" stroke-width="1.1"/>
<line x1="40.3" y1="200.40" x2="43.3" y2="200.40" stroke="#1a1a1a" stroke-width="1.1"/>
<text x="38.3" y="203.20" font-size="8" text-anchor="end" fill="#111" stroke="#111">0.12</text>
<line x1="41.3" y1="190.90" x2="43.3" y2="190.90" stroke="#1a1a1a" stroke-width="1.1"/>
<line x1="40.3" y1="181.40" x2="43.3" y2="181.40" stroke="#1a1a1a" stroke-width="1.1"/>
<text x="38.3" y="184.20" font-size="8" text-anchor="end" fill="#111" stroke="#111">0.14</text>
<text x="45" y="193" font-size="12.2" fill="#111" stroke="#111">(c)</text>
<text x="112.4" y="343" font-size="12.15" fill="#111" stroke="#111">Temperature (°C)</text>
<text transform="translate(18,255) rotate(-90)" font-size="12.2" text-anchor="middle" fill="#111" stroke="#111">Strain (%)</text>
<text transform="translate(88.8,62.7) rotate(-48)" font-size="9" fill="#000000" stroke="#000000">20 °C</text>
<text transform="translate(86.5,203.3) rotate(-48)" font-size="9" fill="#000000" stroke="#000000">20 °C</text>
<text transform="translate(105.3,58.1) rotate(-48)" font-size="9" fill="#ff0000" stroke="#ff0000">30 °C</text>
<text transform="translate(99.4,208.0) rotate(-48)" font-size="9" fill="#ff0000" stroke="#ff0000">30 °C</text>
<text transform="translate(119.8,55.4) rotate(-48)" font-size="9" fill="#0000ff" stroke="#0000ff">40 °C</text>
<text transform="translate(117.8,204.1) rotate(-48)" font-size="9" fill="#0000ff" stroke="#0000ff">40 °C</text>
<text transform="translate(136.4,49.5) rotate(-48)" font-size="9" fill="#ff00ff" stroke="#ff00ff">50 °C</text>
<text transform="translate(133.4,210.8) rotate(-48)" font-size="9" fill="#ff00ff" stroke="#ff00ff">50 °C</text>
<text transform="translate(153.2,43.0) rotate(-48)" font-size="9" fill="#008000" stroke="#008000">60 °C</text>
<text transform="translate(150.8,212.1) rotate(-48)" font-size="9" fill="#008000" stroke="#008000">60 °C</text>
<text transform="translate(169.1,39.7) rotate(-48)" font-size="9" fill="#000080" stroke="#000080">70 °C</text>
<text transform="translate(166.7,215.4) rotate(-48)" font-size="9" fill="#000080" stroke="#000080">70 °C</text>
<text transform="translate(185.1,35.6) rotate(-48)" font-size="9" fill="#8000ff" stroke="#8000ff">80 °C</text>
<text transform="translate(184.7,216.2) rotate(-48)" font-size="9" fill="#8000ff" stroke="#8000ff">80 °C</text>
<text transform="translate(198.6,38.5) rotate(-48)" font-size="9" fill="#9020a0" stroke="#9020a0">90 °C</text>
<text transform="translate(200.3,218.5) rotate(-48)" font-size="9" fill="#9020a0" stroke="#9020a0">90 °C</text>
<text transform="translate(211.9,43.1) rotate(-48)" font-size="9" fill="#900010" stroke="#900010">100 °C</text>
<text transform="translate(214.2,222.5) rotate(-48)" font-size="9" fill="#900010" stroke="#900010">100 °C</text>
<text transform="translate(227.5,47.7) rotate(-48)" font-size="9" fill="#90a020" stroke="#90a020">110 °C</text>
<text transform="translate(228.7,222.1) rotate(-48)" font-size="9" fill="#90a020" stroke="#90a020">110 °C</text>
<text transform="translate(239.6,54.6) rotate(-48)" font-size="9" fill="#2060d0" stroke="#2060d0">120 °C</text>
<text transform="translate(241.1,225.7) rotate(-48)" font-size="9" fill="#2060d0" stroke="#2060d0">120 °C</text>
<text transform="translate(252.8,57.9) rotate(-48)" font-size="9" fill="#00a0a0" stroke="#00a0a0">130 °C</text>
<text transform="translate(253.7,229.9) rotate(-48)" font-size="9" fill="#00a0a0" stroke="#00a0a0">130 °C</text>
<text transform="translate(257,108.7) rotate(-56)" font-size="9" fill="#b86818" stroke="#b86818">140 °C</text>
<text transform="translate(255.3,278) rotate(-56)" font-size="9" fill="#b86818" stroke="#b86818">140 °C</text>
<polyline points="319.41,80.60 333.83,66.20 348.24,63.20 362.66,57.60 377.07,46.20 391.49,44.00 405.90,37.20 420.31,39.60 434.73,47.00 449.14,52.60 463.56,62.20 477.97,67.00 492.39,71.60" fill="none" stroke="#000088" stroke-width="1.15"/>
<polyline points="319.41,60.60 333.83,47.60 348.24,44.40 362.66,39.60 377.07,29.60 391.49,27.40 405.90,21.00 420.31,23.60 434.73,30.00 449.14,35.00 463.56,43.40 477.97,48.00 492.39,51.60" fill="none" stroke="#a020a8" stroke-width="1.15"/>
<circle cx="319.41" cy="80.60" r="4.3" fill="#fff"/><circle cx="319.41" cy="80.60" r="3.5" fill="#000088"/>
<circle cx="333.83" cy="66.20" r="4.3" fill="#fff"/><circle cx="333.83" cy="66.20" r="3.5" fill="#000088"/>
<circle cx="348.24" cy="63.20" r="4.3" fill="#fff"/><circle cx="348.24" cy="63.20" r="3.5" fill="#000088"/>
<circle cx="362.66" cy="57.60" r="4.3" fill="#fff"/><circle cx="362.66" cy="57.60" r="3.5" fill="#000088"/>
<circle cx="377.07" cy="46.20" r="4.3" fill="#fff"/><circle cx="377.07" cy="46.20" r="3.5" fill="#000088"/>
<circle cx="391.49" cy="44.00" r="4.3" fill="#fff"/><circle cx="391.49" cy="44.00" r="3.5" fill="#000088"/>
<circle cx="405.90" cy="37.20" r="4.3" fill="#fff"/><circle cx="405.90" cy="37.20" r="3.5" fill="#000088"/>
<circle cx="420.31" cy="39.60" r="4.3" fill="#fff"/><circle cx="420.31" cy="39.60" r="3.5" fill="#000088"/>
<circle cx="434.73" cy="47.00" r="4.3" fill="#fff"/><circle cx="434.73" cy="47.00" r="3.5" fill="#000088"/>
<circle cx="449.14" cy="52.60" r="4.3" fill="#fff"/><circle cx="449.14" cy="52.60" r="3.5" fill="#000088"/>
<circle cx="463.56" cy="62.20" r="4.3" fill="#fff"/><circle cx="463.56" cy="62.20" r="3.5" fill="#000088"/>
<circle cx="477.97" cy="67.00" r="4.3" fill="#fff"/><circle cx="477.97" cy="67.00" r="3.5" fill="#000088"/>
<circle cx="492.39" cy="71.60" r="4.3" fill="#fff"/><circle cx="492.39" cy="71.60" r="3.5" fill="#000088"/>
<circle cx="319.41" cy="60.60" r="4.2" fill="#fff"/><circle cx="319.41" cy="60.60" r="2.85" fill="#fff" stroke="#a020a8" stroke-width="1.2"/>
<circle cx="333.83" cy="47.60" r="4.2" fill="#fff"/><circle cx="333.83" cy="47.60" r="2.85" fill="#fff" stroke="#a020a8" stroke-width="1.2"/>
<circle cx="348.24" cy="44.40" r="4.2" fill="#fff"/><circle cx="348.24" cy="44.40" r="2.85" fill="#fff" stroke="#a020a8" stroke-width="1.2"/>
<circle cx="362.66" cy="39.60" r="4.2" fill="#fff"/><circle cx="362.66" cy="39.60" r="2.85" fill="#fff" stroke="#a020a8" stroke-width="1.2"/>
<circle cx="377.07" cy="29.60" r="4.2" fill="#fff"/><circle cx="377.07" cy="29.60" r="2.85" fill="#fff" stroke="#a020a8" stroke-width="1.2"/>
<circle cx="391.49" cy="27.40" r="4.2" fill="#fff"/><circle cx="391.49" cy="27.40" r="2.85" fill="#fff" stroke="#a020a8" stroke-width="1.2"/>
<circle cx="405.90" cy="21.00" r="4.2" fill="#fff"/><circle cx="405.90" cy="21.00" r="2.85" fill="#fff" stroke="#a020a8" stroke-width="1.2"/>
<circle cx="420.31" cy="23.60" r="4.2" fill="#fff"/><circle cx="420.31" cy="23.60" r="2.85" fill="#fff" stroke="#a020a8" stroke-width="1.2"/>
<circle cx="434.73" cy="30.00" r="4.2" fill="#fff"/><circle cx="434.73" cy="30.00" r="2.85" fill="#fff" stroke="#a020a8" stroke-width="1.2"/>
<circle cx="449.14" cy="35.00" r="4.2" fill="#fff"/><circle cx="449.14" cy="35.00" r="2.85" fill="#fff" stroke="#a020a8" stroke-width="1.2"/>
<circle cx="463.56" cy="43.40" r="4.2" fill="#fff"/><circle cx="463.56" cy="43.40" r="2.85" fill="#fff" stroke="#a020a8" stroke-width="1.2"/>
<circle cx="477.97" cy="48.00" r="4.2" fill="#fff"/><circle cx="477.97" cy="48.00" r="2.85" fill="#fff" stroke="#a020a8" stroke-width="1.2"/>
<circle cx="492.39" cy="51.60" r="4.2" fill="#fff"/><circle cx="492.39" cy="51.60" r="2.85" fill="#fff" stroke="#a020a8" stroke-width="1.2"/>
<ellipse cx="333.6" cy="48.0" rx="5.0" ry="8.8" fill="none" stroke="#a020a8" stroke-width="1.3"/>
<line x1="329.0" y1="52.0" x2="320.0" y2="52.0" stroke="#a020a8" stroke-width="1.8"/>
<polygon points="317.0,52.0 322.0,50.1 321.0,52.0 322.0,53.9" fill="#a020a8"/>
<ellipse cx="477.0" cy="66.0" rx="5.2" ry="8.8" fill="none" stroke="#000088" stroke-width="1.3"/>
<line x1="482.0" y1="61.6" x2="490.0" y2="61.6" stroke="#000088" stroke-width="1.8"/>
<polygon points="493.0,61.6 488.0,59.7 489.0,61.6 488.0,63.5" fill="#000088"/>
<rect x="305.0" y="12.3" width="201.8" height="134.1" fill="none" stroke="#1a1a1a" stroke-width="1.3"/>
<line x1="302.0" y1="146.40" x2="305.0" y2="146.40" stroke="#1a1a1a" stroke-width="1.1"/>
<text x="300.2" y="149.20" font-size="8" text-anchor="end" fill="#111" stroke="#111">0.00</text>
<line x1="303.0" y1="132.99" x2="305.0" y2="132.99" stroke="#1a1a1a" stroke-width="1.1"/>
<line x1="302.0" y1="119.58" x2="305.0" y2="119.58" stroke="#1a1a1a" stroke-width="1.1"/>
<text x="300.2" y="122.38" font-size="8" text-anchor="end" fill="#111" stroke="#111">0.03</text>
<line x1="303.0" y1="106.17" x2="305.0" y2="106.17" stroke="#1a1a1a" stroke-width="1.1"/>
<line x1="302.0" y1="92.76" x2="305.0" y2="92.76" stroke="#1a1a1a" stroke-width="1.1"/>
<text x="300.2" y="95.56" font-size="8" text-anchor="end" fill="#111" stroke="#111">0.06</text>
<line x1="303.0" y1="79.35" x2="305.0" y2="79.35" stroke="#1a1a1a" stroke-width="1.1"/>
<line x1="302.0" y1="65.94" x2="305.0" y2="65.94" stroke="#1a1a1a" stroke-width="1.1"/>
<text x="300.2" y="68.74" font-size="8" text-anchor="end" fill="#111" stroke="#111">0.09</text>
<line x1="303.0" y1="52.53" x2="305.0" y2="52.53" stroke="#1a1a1a" stroke-width="1.1"/>
<line x1="302.0" y1="39.12" x2="305.0" y2="39.12" stroke="#1a1a1a" stroke-width="1.1"/>
<text x="300.2" y="41.92" font-size="8" text-anchor="end" fill="#111" stroke="#111">0.12</text>
<line x1="303.0" y1="25.71" x2="305.0" y2="25.71" stroke="#1a1a1a" stroke-width="1.1"/>
<line x1="302.0" y1="12.30" x2="305.0" y2="12.30" stroke="#1a1a1a" stroke-width="1.1"/>
<text x="300.2" y="15.10" font-size="8" text-anchor="end" fill="#111" stroke="#111">0.15</text>
<line x1="506.8" y1="146.40" x2="509.8" y2="146.40" stroke="#1a1a1a" stroke-width="1.1"/>
<text x="510.8" y="149.20" font-size="8" fill="#111" stroke="#111">100</text>
<line x1="506.8" y1="131.50" x2="508.8" y2="131.50" stroke="#1a1a1a" stroke-width="1.1"/>
<line x1="506.8" y1="116.60" x2="509.8" y2="116.60" stroke="#1a1a1a" stroke-width="1.1"/>
<text x="510.8" y="119.40" font-size="8" fill="#111" stroke="#111">200</text>
<line x1="506.8" y1="101.70" x2="508.8" y2="101.70" stroke="#1a1a1a" stroke-width="1.1"/>
<line x1="506.8" y1="86.80" x2="509.8" y2="86.80" stroke="#1a1a1a" stroke-width="1.1"/>
<text x="510.8" y="89.60" font-size="8" fill="#111" stroke="#111">300</text>
<line x1="506.8" y1="71.90" x2="508.8" y2="71.90" stroke="#1a1a1a" stroke-width="1.1"/>
<line x1="506.8" y1="57.00" x2="509.8" y2="57.00" stroke="#1a1a1a" stroke-width="1.1"/>
<text x="510.8" y="59.80" font-size="8" fill="#111" stroke="#111">400</text>
<line x1="506.8" y1="42.10" x2="508.8" y2="42.10" stroke="#1a1a1a" stroke-width="1.1"/>
<line x1="506.8" y1="27.20" x2="509.8" y2="27.20" stroke="#1a1a1a" stroke-width="1.1"/>
<text x="510.8" y="30.00" font-size="8" fill="#111" stroke="#111">500</text>
<line x1="506.8" y1="12.30" x2="508.8" y2="12.30" stroke="#1a1a1a" stroke-width="1.1"/>
<line x1="305.00" y1="146.4" x2="305.00" y2="148.4" stroke="#1a1a1a" stroke-width="1.1"/>
<line x1="319.41" y1="146.4" x2="319.41" y2="149.4" stroke="#1a1a1a" stroke-width="1.1"/>
<text x="319.41" y="157.4" font-size="8" text-anchor="middle" fill="#111" stroke="#111">20</text>
<line x1="333.83" y1="146.4" x2="333.83" y2="148.4" stroke="#1a1a1a" stroke-width="1.1"/>
<line x1="348.24" y1="146.4" x2="348.24" y2="149.4" stroke="#1a1a1a" stroke-width="1.1"/>
<text x="348.24" y="157.4" font-size="8" text-anchor="middle" fill="#111" stroke="#111">40</text>
<line x1="362.66" y1="146.4" x2="362.66" y2="148.4" stroke="#1a1a1a" stroke-width="1.1"/>
<line x1="377.07" y1="146.4" x2="377.07" y2="149.4" stroke="#1a1a1a" stroke-width="1.1"/>
<text x="377.07" y="157.4" font-size="8" text-anchor="middle" fill="#111" stroke="#111">60</text>
<line x1="391.49" y1="146.4" x2="391.49" y2="148.4" stroke="#1a1a1a" stroke-width="1.1"/>
<line x1="405.90" y1="146.4" x2="405.90" y2="149.4" stroke="#1a1a1a" stroke-width="1.1"/>
<text x="405.90" y="157.4" font-size="8" text-anchor="middle" fill="#111" stroke="#111">80</text>
<line x1="420.31" y1="146.4" x2="420.31" y2="148.4" stroke="#1a1a1a" stroke-width="1.1"/>
<line x1="434.73" y1="146.4" x2="434.73" y2="149.4" stroke="#1a1a1a" stroke-width="1.1"/>
<text x="434.73" y="157.4" font-size="8" text-anchor="middle" fill="#111" stroke="#111">100</text>
<line x1="449.14" y1="146.4" x2="449.14" y2="148.4" stroke="#1a1a1a" stroke-width="1.1"/>
<line x1="463.56" y1="146.4" x2="463.56" y2="149.4" stroke="#1a1a1a" stroke-width="1.1"/>
<text x="463.56" y="157.4" font-size="8" text-anchor="middle" fill="#111" stroke="#111">120</text>
<line x1="477.97" y1="146.4" x2="477.97" y2="148.4" stroke="#1a1a1a" stroke-width="1.1"/>
<line x1="492.39" y1="146.4" x2="492.39" y2="149.4" stroke="#1a1a1a" stroke-width="1.1"/>
<text x="492.39" y="157.4" font-size="8" text-anchor="middle" fill="#111" stroke="#111">140</text>
<line x1="506.80" y1="146.4" x2="506.80" y2="148.4" stroke="#1a1a1a" stroke-width="1.1"/>
<text x="306.6" y="26.0" font-size="12.2" fill="#111" stroke="#111">(b)</text>
<text x="360.4" y="175.0" font-size="12.15" fill="#111" stroke="#111">Temperature (°C)</text>
<text x="307.0" y="141.0" font-size="12" fill="#111" stroke="#111"><tspan font-style="italic">E</tspan> =30 kV/cm</text>
<text transform="translate(283.0,83.5) rotate(-90)" font-size="12.2" text-anchor="middle" fill="#111" stroke="#111">Strain (%)</text>
<text transform="translate(538.0,88.0) rotate(-90)" font-size="12.2" text-anchor="middle" fill="#111" stroke="#111"><tspan font-style="italic" font-size="11.5">d</tspan><tspan font-size="7" dy="-6.5">*</tspan><tspan font-size="8" dx="-3.2" dy="9">33</tspan><tspan dy="-2.5" dx="-2.2"> (pm/V)</tspan></text>
<polyline points="318.49,232.60 332.77,236.60 347.06,234.00 361.34,239.60 375.63,240.00 389.91,245.20 404.20,245.60 418.49,246.60 432.77,251.00 447.06,249.60 461.34,255.20 475.63,256.60 489.91,258.20" fill="none" stroke="#000088" stroke-width="1.15"/>
<polyline points="318.49,213.40 332.77,217.40 347.06,215.00 361.34,220.00 375.63,220.40 389.91,225.00 404.20,226.00 418.49,226.60 432.77,230.00 447.06,229.00 461.34,234.00 475.63,234.60 489.91,237.00" fill="none" stroke="#a020a8" stroke-width="1.15"/>
<circle cx="318.49" cy="232.60" r="4.3" fill="#fff"/><circle cx="318.49" cy="232.60" r="3.5" fill="#000088"/>
<circle cx="332.77" cy="236.60" r="4.3" fill="#fff"/><circle cx="332.77" cy="236.60" r="3.5" fill="#000088"/>
<circle cx="347.06" cy="234.00" r="4.3" fill="#fff"/><circle cx="347.06" cy="234.00" r="3.5" fill="#000088"/>
<circle cx="361.34" cy="239.60" r="4.3" fill="#fff"/><circle cx="361.34" cy="239.60" r="3.5" fill="#000088"/>
<circle cx="375.63" cy="240.00" r="4.3" fill="#fff"/><circle cx="375.63" cy="240.00" r="3.5" fill="#000088"/>
<circle cx="389.91" cy="245.20" r="4.3" fill="#fff"/><circle cx="389.91" cy="245.20" r="3.5" fill="#000088"/>
<circle cx="404.20" cy="245.60" r="4.3" fill="#fff"/><circle cx="404.20" cy="245.60" r="3.5" fill="#000088"/>
<circle cx="418.49" cy="246.60" r="4.3" fill="#fff"/><circle cx="418.49" cy="246.60" r="3.5" fill="#000088"/>
<circle cx="432.77" cy="251.00" r="4.3" fill="#fff"/><circle cx="432.77" cy="251.00" r="3.5" fill="#000088"/>
<circle cx="447.06" cy="249.60" r="4.3" fill="#fff"/><circle cx="447.06" cy="249.60" r="3.5" fill="#000088"/>
<circle cx="461.34" cy="255.20" r="4.3" fill="#fff"/><circle cx="461.34" cy="255.20" r="3.5" fill="#000088"/>
<circle cx="475.63" cy="256.60" r="4.3" fill="#fff"/><circle cx="475.63" cy="256.60" r="3.5" fill="#000088"/>
<circle cx="489.91" cy="258.20" r="4.3" fill="#fff"/><circle cx="489.91" cy="258.20" r="3.5" fill="#000088"/>
<circle cx="318.49" cy="213.40" r="4.2" fill="#fff"/><circle cx="318.49" cy="213.40" r="2.85" fill="#fff" stroke="#a020a8" stroke-width="1.2"/>
<circle cx="332.77" cy="217.40" r="4.2" fill="#fff"/><circle cx="332.77" cy="217.40" r="2.85" fill="#fff" stroke="#a020a8" stroke-width="1.2"/>
<circle cx="347.06" cy="215.00" r="4.2" fill="#fff"/><circle cx="347.06" cy="215.00" r="2.85" fill="#fff" stroke="#a020a8" stroke-width="1.2"/>
<circle cx="361.34" cy="220.00" r="4.2" fill="#fff"/><circle cx="361.34" cy="220.00" r="2.85" fill="#fff" stroke="#a020a8" stroke-width="1.2"/>
<circle cx="375.63" cy="220.40" r="4.2" fill="#fff"/><circle cx="375.63" cy="220.40" r="2.85" fill="#fff" stroke="#a020a8" stroke-width="1.2"/>
<circle cx="389.91" cy="225.00" r="4.2" fill="#fff"/><circle cx="389.91" cy="225.00" r="2.85" fill="#fff" stroke="#a020a8" stroke-width="1.2"/>
<circle cx="404.20" cy="226.00" r="4.2" fill="#fff"/><circle cx="404.20" cy="226.00" r="2.85" fill="#fff" stroke="#a020a8" stroke-width="1.2"/>
<circle cx="418.49" cy="226.60" r="4.2" fill="#fff"/><circle cx="418.49" cy="226.60" r="2.85" fill="#fff" stroke="#a020a8" stroke-width="1.2"/>
<circle cx="432.77" cy="230.00" r="4.2" fill="#fff"/><circle cx="432.77" cy="230.00" r="2.85" fill="#fff" stroke="#a020a8" stroke-width="1.2"/>
<circle cx="447.06" cy="229.00" r="4.2" fill="#fff"/><circle cx="447.06" cy="229.00" r="2.85" fill="#fff" stroke="#a020a8" stroke-width="1.2"/>
<circle cx="461.34" cy="234.00" r="4.2" fill="#fff"/><circle cx="461.34" cy="234.00" r="2.85" fill="#fff" stroke="#a020a8" stroke-width="1.2"/>
<circle cx="475.63" cy="234.60" r="4.2" fill="#fff"/><circle cx="475.63" cy="234.60" r="2.85" fill="#fff" stroke="#a020a8" stroke-width="1.2"/>
<circle cx="489.91" cy="237.00" r="4.2" fill="#fff"/><circle cx="489.91" cy="237.00" r="2.85" fill="#fff" stroke="#a020a8" stroke-width="1.2"/>
<ellipse cx="389.6" cy="225.0" rx="5.0" ry="8.8" fill="none" stroke="#a020a8" stroke-width="1.3"/>
<line x1="385.6" y1="229.0" x2="377.0" y2="229.0" stroke="#a020a8" stroke-width="1.8"/>
<polygon points="374.0,229.0 379.0,227.1 378.0,229.0 379.0,230.9" fill="#a020a8"/>
<ellipse cx="432.0" cy="250.0" rx="5.2" ry="8.8" fill="none" stroke="#000088" stroke-width="1.3"/>
<line x1="437.0" y1="255.4" x2="445.0" y2="255.4" stroke="#000088" stroke-width="1.8"/>
<polygon points="448.0,255.4 443.0,253.5 444.0,255.4 443.0,257.3" fill="#000088"/>
<rect x="304.2" y="180.8" width="200.0" height="133.9" fill="none" stroke="#1a1a1a" stroke-width="1.3"/>
<line x1="301.2" y1="314.70" x2="304.2" y2="314.70" stroke="#1a1a1a" stroke-width="1.1"/>
<text x="299.4" y="317.50" font-size="8" text-anchor="end" fill="#111" stroke="#111">0.00</text>
<line x1="302.2" y1="301.31" x2="304.2" y2="301.31" stroke="#1a1a1a" stroke-width="1.1"/>
<line x1="301.2" y1="287.92" x2="304.2" y2="287.92" stroke="#1a1a1a" stroke-width="1.1"/>
<text x="299.4" y="290.72" font-size="8" text-anchor="end" fill="#111" stroke="#111">0.03</text>
<line x1="302.2" y1="274.53" x2="304.2" y2="274.53" stroke="#1a1a1a" stroke-width="1.1"/>
<line x1="301.2" y1="261.14" x2="304.2" y2="261.14" stroke="#1a1a1a" stroke-width="1.1"/>
<text x="299.4" y="263.94" font-size="8" text-anchor="end" fill="#111" stroke="#111">0.06</text>
<line x1="302.2" y1="247.75" x2="304.2" y2="247.75" stroke="#1a1a1a" stroke-width="1.1"/>
<line x1="301.2" y1="234.36" x2="304.2" y2="234.36" stroke="#1a1a1a" stroke-width="1.1"/>
<text x="299.4" y="237.16" font-size="8" text-anchor="end" fill="#111" stroke="#111">0.09</text>
<line x1="302.2" y1="220.97" x2="304.2" y2="220.97" stroke="#1a1a1a" stroke-width="1.1"/>
<line x1="301.2" y1="207.58" x2="304.2" y2="207.58" stroke="#1a1a1a" stroke-width="1.1"/>
<text x="299.4" y="210.38" font-size="8" text-anchor="end" fill="#111" stroke="#111">0.12</text>
<line x1="302.2" y1="194.19" x2="304.2" y2="194.19" stroke="#1a1a1a" stroke-width="1.1"/>
<line x1="301.2" y1="180.80" x2="304.2" y2="180.80" stroke="#1a1a1a" stroke-width="1.1"/>
<text x="299.4" y="183.60" font-size="8" text-anchor="end" fill="#111" stroke="#111">0.15</text>
<line x1="504.2" y1="314.70" x2="507.2" y2="314.70" stroke="#1a1a1a" stroke-width="1.1"/>
<text x="508.2" y="317.50" font-size="8" fill="#111" stroke="#111">100</text>
<line x1="504.2" y1="299.82" x2="506.2" y2="299.82" stroke="#1a1a1a" stroke-width="1.1"/>
<line x1="504.2" y1="284.94" x2="507.2" y2="284.94" stroke="#1a1a1a" stroke-width="1.1"/>
<text x="508.2" y="287.74" font-size="8" fill="#111" stroke="#111">200</text>
<line x1="504.2" y1="270.07" x2="506.2" y2="270.07" stroke="#1a1a1a" stroke-width="1.1"/>
<line x1="504.2" y1="255.19" x2="507.2" y2="255.19" stroke="#1a1a1a" stroke-width="1.1"/>
<text x="508.2" y="257.99" font-size="8" fill="#111" stroke="#111">300</text>
<line x1="504.2" y1="240.31" x2="506.2" y2="240.31" stroke="#1a1a1a" stroke-width="1.1"/>
<line x1="504.2" y1="225.43" x2="507.2" y2="225.43" stroke="#1a1a1a" stroke-width="1.1"/>
<text x="508.2" y="228.23" font-size="8" fill="#111" stroke="#111">400</text>
<line x1="504.2" y1="210.56" x2="506.2" y2="210.56" stroke="#1a1a1a" stroke-width="1.1"/>
<line x1="504.2" y1="195.68" x2="507.2" y2="195.68" stroke="#1a1a1a" stroke-width="1.1"/>
<text x="508.2" y="198.48" font-size="8" fill="#111" stroke="#111">500</text>
<line x1="504.2" y1="180.80" x2="506.2" y2="180.80" stroke="#1a1a1a" stroke-width="1.1"/>
<line x1="304.20" y1="314.7" x2="304.20" y2="316.7" stroke="#1a1a1a" stroke-width="1.1"/>
<line x1="318.49" y1="314.7" x2="318.49" y2="317.7" stroke="#1a1a1a" stroke-width="1.1"/>
<text x="318.49" y="325.7" font-size="8" text-anchor="middle" fill="#111" stroke="#111">20</text>
<line x1="332.77" y1="314.7" x2="332.77" y2="316.7" stroke="#1a1a1a" stroke-width="1.1"/>
<line x1="347.06" y1="314.7" x2="347.06" y2="317.7" stroke="#1a1a1a" stroke-width="1.1"/>
<text x="347.06" y="325.7" font-size="8" text-anchor="middle" fill="#111" stroke="#111">40</text>
<line x1="361.34" y1="314.7" x2="361.34" y2="316.7" stroke="#1a1a1a" stroke-width="1.1"/>
<line x1="375.63" y1="314.7" x2="375.63" y2="317.7" stroke="#1a1a1a" stroke-width="1.1"/>
<text x="375.63" y="325.7" font-size="8" text-anchor="middle" fill="#111" stroke="#111">60</text>
<line x1="389.91" y1="314.7" x2="389.91" y2="316.7" stroke="#1a1a1a" stroke-width="1.1"/>
<line x1="404.20" y1="314.7" x2="404.20" y2="317.7" stroke="#1a1a1a" stroke-width="1.1"/>
<text x="404.20" y="325.7" font-size="8" text-anchor="middle" fill="#111" stroke="#111">80</text>
<line x1="418.49" y1="314.7" x2="418.49" y2="316.7" stroke="#1a1a1a" stroke-width="1.1"/>
<line x1="432.77" y1="314.7" x2="432.77" y2="317.7" stroke="#1a1a1a" stroke-width="1.1"/>
<text x="432.77" y="325.7" font-size="8" text-anchor="middle" fill="#111" stroke="#111">100</text>
<line x1="447.06" y1="314.7" x2="447.06" y2="316.7" stroke="#1a1a1a" stroke-width="1.1"/>
<line x1="461.34" y1="314.7" x2="461.34" y2="317.7" stroke="#1a1a1a" stroke-width="1.1"/>
<text x="461.34" y="325.7" font-size="8" text-anchor="middle" fill="#111" stroke="#111">120</text>
<line x1="475.63" y1="314.7" x2="475.63" y2="316.7" stroke="#1a1a1a" stroke-width="1.1"/>
<line x1="489.91" y1="314.7" x2="489.91" y2="317.7" stroke="#1a1a1a" stroke-width="1.1"/>
<text x="489.91" y="325.7" font-size="8" text-anchor="middle" fill="#111" stroke="#111">140</text>
<line x1="504.20" y1="314.7" x2="504.20" y2="316.7" stroke="#1a1a1a" stroke-width="1.1"/>
<text x="306.0" y="193.0" font-size="12.2" fill="#111" stroke="#111">(d)</text>
<text x="359.0" y="343.0" font-size="12.15" fill="#111" stroke="#111">Temperature (°C)</text>
<text x="306.0" y="310.0" font-size="12" fill="#111" stroke="#111"><tspan font-style="italic">E</tspan> =30 kV/cm</text>
<text transform="translate(281.0,255.5) rotate(-90)" font-size="12.2" text-anchor="middle" fill="#111" stroke="#111">Strain (%)</text>
<text transform="translate(535.0,257.0) rotate(-90)" font-size="12.2" text-anchor="middle" fill="#111" stroke="#111"><tspan font-style="italic" font-size="11.5">d</tspan><tspan font-size="7" dy="-6.5">*</tspan><tspan font-size="8" dx="-3.2" dy="9">33</tspan><tspan dy="-2.5" dx="-2.2"> (pm/V)</tspan></text>
</svg></body></html>
